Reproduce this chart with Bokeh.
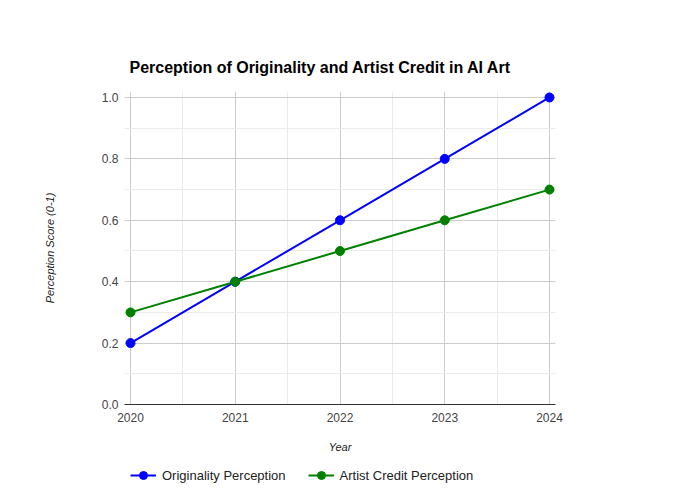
from bokeh.plotting import figure
from bokeh.layouts import column
from bokeh.models import FixedTicker, Legend, LegendItem, CustomJSTickFormatter, Range1d
from bokeh.embed import file_html
from bokeh.resources import INLINE

years = [2020, 2021, 2022, 2023, 2024]
originality = [0.2, 0.4, 0.6, 0.8, 1.0]
artist_credit = [0.3, 0.4, 0.5, 0.6, 0.7]
x_ticks = [2020, 2021, 2022, 2023, 2024]
x_minor = [2020.5, 2021.5, 2022.5, 2023.5]
y_ticks = [0.0, 0.2, 0.4, 0.6, 0.8, 1.0]
y_minor = [0.1, 0.3, 0.5, 0.7, 0.9]

FONT = "Liberation Sans"
XPAD = 0.0573
YPAD = 0.0195

p = figure(width=664, height=460, output_backend="svg", toolbar_location=None,
           x_range=(2020 - XPAD, 2024 + XPAD), y_range=(0, 1 + YPAD),
           min_border_left=124, min_border_right=109, min_border_top=91, min_border_bottom=56,
           title="Perception of Originality and Artist Credit in AI Art")
p.outline_line_color = None
p.background_fill_color = "white"

p.title.text_font = FONT
p.title.text_font_size = "16px"
p.title.text_font_style = "bold"
p.title.text_color = "#000000"
p.title.align = "left"
p.title.offset = 5
p.title.standoff = 31

p.xaxis.ticker = FixedTicker(ticks=x_ticks, minor_ticks=x_minor)
p.yaxis.ticker = FixedTicker(ticks=y_ticks, minor_ticks=y_minor)
p.yaxis.formatter = CustomJSTickFormatter(code="return tick.toFixed(1);")

for ax in (p.xaxis, p.yaxis):
    ax.major_tick_line_color = None
    ax.minor_tick_line_color = None
    ax.major_tick_out = 0
    ax.minor_tick_out = 0
    ax.major_tick_in = 0
    ax.minor_tick_in = 0
    ax.major_label_text_font = FONT
    ax.major_label_text_font_size = "12px"
    ax.major_label_text_color = "#444444"
    ax.axis_label_text_font = FONT
    ax.axis_label_text_font_size = "11px"
    ax.axis_label_text_font_style = "italic"
    ax.axis_label_text_color = "#222222"

p.xaxis.axis_label = "Year"
p.yaxis.axis_label = "Perception Score (0-1)"
p.xaxis.axis_line_color = "#333333"
p.yaxis.axis_line_color = None
p.xaxis.major_label_standoff = 8
p.xaxis.axis_label_standoff = 16
p.yaxis.major_label_standoff = 6
p.yaxis.axis_label_standoff = 43

p.xgrid.ticker = p.xaxis.ticker
p.ygrid.ticker = p.yaxis.ticker
for g in (p.xgrid, p.ygrid):
    g.grid_line_color = "#cccccc"
    g.minor_grid_line_color = "#ebebeb"

p.line(years, originality, line_color="blue", line_width=2)
p.scatter(years, originality, size=9, fill_color="blue", line_color="blue")
p.line(years, artist_credit, line_color="green", line_width=2)
p.scatter(years, artist_credit, size=9, fill_color="green", line_color="green")

# legend strip below the chart
pl = figure(width=664, height=30, output_backend="svg", toolbar_location=None,
            x_range=Range1d(0, 1), y_range=Range1d(0, 1),
            x_axis_location=None, y_axis_location=None,
            min_border_left=0, min_border_right=0, min_border_top=0, min_border_bottom=0)
pl.outline_line_color = None
pl.xgrid.visible = False
pl.ygrid.visible = False
l1 = pl.line(years, originality, line_color="blue", line_width=2)
s1 = pl.scatter(years, originality, size=8, fill_color="blue", line_color="blue")
l2 = pl.line(years, artist_credit, line_color="green", line_width=2)
s2 = pl.scatter(years, artist_credit, size=8, fill_color="green", line_color="green")

legend = Legend(items=[LegendItem(label="Originality Perception", renderers=[l1, s1]),
                       LegendItem(label="Artist Credit Perception", renderers=[l2, s2])],
                orientation="horizontal", location=(6, 5))
legend.label_text_font = FONT
legend.label_text_font_size = "13px"
legend.label_text_color = "#222222"
legend.border_line_color = None
legend.background_fill_alpha = 0
legend.glyph_width = 26
legend.spacing = 22
legend.label_standoff = 6
legend.padding = 0
legend.margin = 0
pl.add_layout(legend)

layout = column(p, pl, spacing=0)
open("out.html", "w").write(file_html(layout, INLINE))
